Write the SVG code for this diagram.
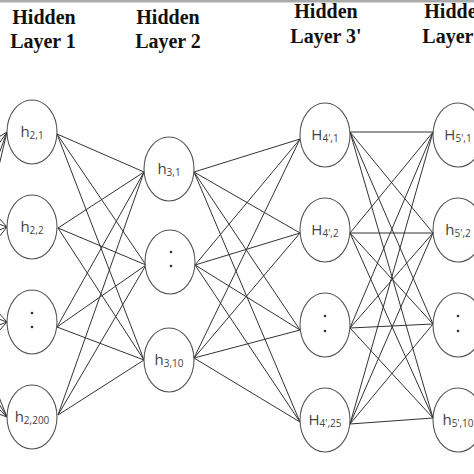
<svg xmlns="http://www.w3.org/2000/svg" width="474" height="474" viewBox="0 0 474 474">
<style>
.title{font-family:"Liberation Serif","Times New Roman",serif;font-weight:bold;font-size:20px;fill:#111;text-anchor:middle}
.node ellipse{fill:#fff;stroke:#555;stroke-width:1.1}
.lbl{font-family:"Open Sans","Liberation Sans",sans-serif;font-size:15px;fill:#444;text-anchor:middle}
.sub{font-size:10px}
.dot{fill:#333}
#connectors line{stroke:#333;stroke-width:1}
</style>
<rect x="0" y="0" width="474" height="474" fill="#fff"/>
<rect x="0" y="0" width="474" height="2.5" fill="#aaa"/>
<g id="titles">
<text class="title" x="44" y="24">Hidden</text>
<text class="title" x="43" y="48">Layer 1</text>
<text class="title" x="168" y="24">Hidden</text>
<text class="title" x="168" y="48">Layer 2</text>
<text class="title" x="326" y="18">Hidden</text>
<text class="title" x="326" y="43">Layer 3'</text>
<text class="title" x="456" y="18">Hidden</text>
<text class="title" x="458" y="43">Layer 4'</text>
</g>
<g id="connectors">
<!-- input fan into layer 1 -->
<line x1="7" y1="132" x2="-40" y2="160"/><line x1="7" y1="132" x2="-40" y2="200"/><line x1="7" y1="132" x2="-40" y2="260"/><line x1="7" y1="132" x2="-40" y2="330"/>
<line x1="7" y1="227" x2="-40" y2="175"/><line x1="7" y1="227" x2="-40" y2="210"/><line x1="7" y1="227" x2="-40" y2="245"/><line x1="7" y1="227" x2="-40" y2="285"/>
<line x1="7" y1="322" x2="-40" y2="270"/><line x1="7" y1="322" x2="-40" y2="305"/><line x1="7" y1="322" x2="-40" y2="340"/><line x1="7" y1="322" x2="-40" y2="375"/>
<line x1="7" y1="417" x2="-40" y2="300"/><line x1="7" y1="417" x2="-40" y2="340"/><line x1="7" y1="417" x2="-40" y2="370"/><line x1="7" y1="417" x2="-40" y2="400"/>
<!-- layer 1 to layer 2 -->
<line x1="57" y1="134" x2="144" y2="172"/><line x1="57" y1="134" x2="146" y2="265"/><line x1="57" y1="134" x2="144" y2="360"/>
<line x1="58" y1="228" x2="144" y2="172"/><line x1="58" y1="228" x2="146" y2="265"/><line x1="58" y1="228" x2="144" y2="360"/>
<line x1="57" y1="327" x2="144" y2="172"/><line x1="57" y1="327" x2="146" y2="265"/><line x1="57" y1="327" x2="144" y2="360"/>
<line x1="58" y1="415" x2="144" y2="172"/><line x1="58" y1="415" x2="146" y2="265"/><line x1="58" y1="415" x2="144" y2="360"/>
<!-- layer 2 to layer 3 -->
<line x1="194" y1="172" x2="300" y2="139"/><line x1="194" y1="172" x2="300" y2="233"/><line x1="194" y1="172" x2="300" y2="330"/><line x1="194" y1="172" x2="300" y2="422"/>
<line x1="195" y1="265" x2="300" y2="139"/><line x1="195" y1="265" x2="300" y2="233"/><line x1="195" y1="265" x2="300" y2="330"/><line x1="195" y1="265" x2="300" y2="422"/>
<line x1="194" y1="358" x2="300" y2="139"/><line x1="194" y1="358" x2="300" y2="233"/><line x1="194" y1="358" x2="300" y2="330"/><line x1="194" y1="358" x2="300" y2="422"/>
<!-- layer 3 to layer 4 -->
<line x1="350" y1="132" x2="433" y2="132"/><line x1="350" y1="132" x2="433" y2="233"/><line x1="350" y1="132" x2="433" y2="324"/><line x1="350" y1="132" x2="433" y2="418"/>
<line x1="350" y1="233" x2="433" y2="132"/><line x1="350" y1="233" x2="433" y2="233"/><line x1="350" y1="233" x2="433" y2="324"/><line x1="350" y1="233" x2="433" y2="418"/>
<line x1="350" y1="328" x2="433" y2="132"/><line x1="350" y1="328" x2="433" y2="233"/><line x1="350" y1="328" x2="433" y2="324"/><line x1="350" y1="328" x2="433" y2="418"/>
<line x1="350" y1="424" x2="433" y2="132"/><line x1="350" y1="424" x2="433" y2="233"/><line x1="350" y1="424" x2="433" y2="324"/><line x1="350" y1="424" x2="433" y2="418"/>
</g>
<g id="h2_1" class="node"><ellipse cx="32" cy="132" rx="25" ry="32"/><text class="lbl" x="32" y="137">h<tspan class="sub" dy="2">2,1</tspan></text></g>
<g id="h2_2" class="node"><ellipse cx="32" cy="227" rx="25" ry="32"/><text class="lbl" x="32" y="232">h<tspan class="sub" dy="2">2,2</tspan></text></g>
<g id="h2_dots" class="node"><ellipse cx="32" cy="322" rx="25" ry="32"/><circle class="dot" cx="32" cy="313" r="1.3"/><circle class="dot" cx="32" cy="327" r="1.3"/></g>
<g id="h2_200" class="node"><ellipse cx="32" cy="417" rx="25" ry="32"/><text class="lbl" x="32" y="422">h<tspan class="sub" dy="2">2,200</tspan></text></g>
<g id="h3_1" class="node"><ellipse cx="169" cy="169" rx="25" ry="32"/><text class="lbl" x="169" y="174">h<tspan class="sub" dy="2">3,1</tspan></text></g>
<g id="h3_dots" class="node"><ellipse cx="170" cy="262" rx="25" ry="32"/><circle class="dot" cx="171" cy="252" r="1.3"/><circle class="dot" cx="171" cy="266" r="1.3"/></g>
<g id="h3_10" class="node"><ellipse cx="169" cy="360" rx="25" ry="32"/><text class="lbl" x="169" y="365">h<tspan class="sub" dy="2">3,10</tspan></text></g>
<g id="H4_1" class="node"><ellipse cx="325" cy="135" rx="25" ry="32"/><text class="lbl" x="325" y="140">H<tspan class="sub" dy="2">4',1</tspan></text></g>
<g id="H4_2" class="node"><ellipse cx="325" cy="230" rx="25" ry="32"/><text class="lbl" x="325" y="235">H<tspan class="sub" dy="2">4',2</tspan></text></g>
<g id="H4_dots" class="node"><ellipse cx="325" cy="325" rx="25" ry="32"/><circle class="dot" cx="325" cy="316" r="1.3"/><circle class="dot" cx="325" cy="331" r="1.3"/></g>
<g id="H4_25" class="node"><ellipse cx="325" cy="420" rx="25" ry="32"/><text class="lbl" x="325" y="425">H<tspan class="sub" dy="2">4',25</tspan></text></g>
<g id="H5_1" class="node"><ellipse cx="458" cy="135" rx="25" ry="32"/><text class="lbl" x="458" y="140">H<tspan class="sub" dy="2">5',1</tspan></text></g>
<g id="h5_2" class="node"><ellipse cx="458" cy="230" rx="25" ry="32"/><text class="lbl" x="458" y="235">h<tspan class="sub" dy="2">5',2</tspan></text></g>
<g id="h5_dots" class="node"><ellipse cx="458" cy="325" rx="25" ry="32"/><circle class="dot" cx="458" cy="316" r="1.3"/><circle class="dot" cx="458" cy="331" r="1.3"/></g>
<g id="h5_10" class="node"><ellipse cx="458" cy="420" rx="25" ry="32"/><text class="lbl" x="458" y="425">h<tspan class="sub" dy="2">5',10</tspan></text></g>
</svg>
